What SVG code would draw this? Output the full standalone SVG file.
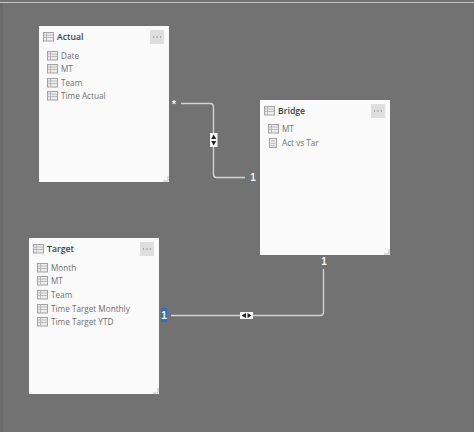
<svg xmlns="http://www.w3.org/2000/svg" width="474" height="432" viewBox="0 0 474 432">
<style>
.card{fill:#fafafa}
.title{font:600 8.7px "Open Sans","Liberation Sans",sans-serif;fill:#3f3f3f}
.field{font:8.2px "Open Sans","Liberation Sans",sans-serif;fill:#707070}
.card-label{font:bold 10px "Liberation Sans",sans-serif;fill:#f4f4f4}
.more{fill:#dedede}
.dots{fill:#8a8a8a}
.ico{fill:#ececec;stroke:#a2a2a2;stroke-width:1}
.ico2{fill:none;stroke:#b0b0b0;stroke-width:.8}
.wire{fill:none;stroke:#d2d2d2;stroke-width:1.4}
.badge{fill:#f4f4f4}
.tri{fill:#222}
.grip{fill:none;stroke:#bdbdbd;stroke-width:1}
</style>
<defs>
<g id="tbl"><rect class="ico" x=".5" y=".5" width="10" height="8.500"/><path class="ico2" d="M.5 3H10.500M.5 5.500H10.500M3.500 .5V9"/></g>
<g id="more"><rect class="more" width="14" height="14"/><circle class="dots" cx="3.500" cy="7" r=".7"/><circle class="dots" cx="7" cy="7" r=".7"/><circle class="dots" cx="10.500" cy="7" r=".7"/></g>
<path id="grip" class="grip" d="M0 5H5V0"/>
</defs>
<rect width="474" height="432" fill="#727272"/>
<rect x="0" y="2" width="474" height="1" fill="#c4c4c4"/>
<rect x="0" y="3" width="3" height="429" fill="#6a6a6a"/>
<g id="connectors">
<path class="wire" d="M181 103.500H210Q213.500 103.500 213.500 107V174Q213.500 177.500 217 177.500H245"/>
<path class="wire" d="M171 315.500H320Q323.500 315.500 323.500 312V269"/>
<g id="dir1"><rect class="badge" x="210" y="133" width="7.500" height="14"/><path class="tri" d="M213.700 134.500L216.200 139H211.200ZM213.700 145.500L216.200 141H211.200Z"/></g>
<g id="dir2"><rect class="badge" x="240" y="312" width="13" height="7"/><path class="tri" d="M241.500 315.500L246 313V318ZM251.500 315.500L247.500 313V318Z"/></g>
<text class="card-label" x="174" y="108" text-anchor="middle">*</text>
<text class="card-label" x="253" y="181" text-anchor="middle">1</text>
<text class="card-label" x="324" y="265" text-anchor="middle">1</text>
<rect x="161" y="308" width="6" height="14" fill="#2f6fc0"/>
<text class="card-label" x="164" y="319" text-anchor="middle">1</text>
</g>
<g id="node-actual">
<rect class="card" x="39" y="26" width="130" height="156"/>
<use href="#tbl" x="43" y="32"/><text class="title" x="57" y="40">Actual</text>
<use href="#more" x="150" y="30"/>
<use href="#tbl" x="47" y="51"/><text class="field" x="61" y="59">Date</text>
<use href="#tbl" x="47" y="64"/><text class="field" x="61" y="72">MT</text>
<use href="#tbl" x="47" y="78"/><text class="field" x="61" y="86">Team</text>
<use href="#tbl" x="47" y="91"/><text class="field" x="61" y="99">Time Actual</text>
<use href="#grip" x="163" y="176"/>
</g>
<g id="node-bridge">
<rect class="card" x="260" y="100" width="130" height="155"/>
<use href="#tbl" x="264" y="106"/><text class="title" x="278" y="114">Bridge</text>
<use href="#more" x="371" y="104"/>
<use href="#tbl" x="268" y="124"/><text class="field" x="282" y="132">MT</text>
<rect class="ico" x="269.500" y="138.500" width="7" height="9"/><path class="ico2" d="M271 141H275M271 143.500H275M271 145.500H275"/><text class="field" x="282" y="146">Act vs Tar</text>
<use href="#grip" x="384" y="249"/>
</g>
<g id="node-target">
<rect class="card" x="29" y="238" width="130" height="156"/>
<use href="#tbl" x="33" y="244"/><text class="title" x="47" y="252">Target</text>
<use href="#more" x="140" y="242"/>
<use href="#tbl" x="37" y="263"/><text class="field" x="51" y="271">Month</text>
<use href="#tbl" x="37" y="276"/><text class="field" x="51" y="284">MT</text>
<use href="#tbl" x="37" y="290"/><text class="field" x="51" y="298">Team</text>
<use href="#tbl" x="37" y="304"/><text class="field" x="51" y="312">Time Target Monthly</text>
<use href="#tbl" x="37" y="317"/><text class="field" x="51" y="325">Time Target YTD</text>
<use href="#grip" x="153" y="388"/>
</g>
</svg>
